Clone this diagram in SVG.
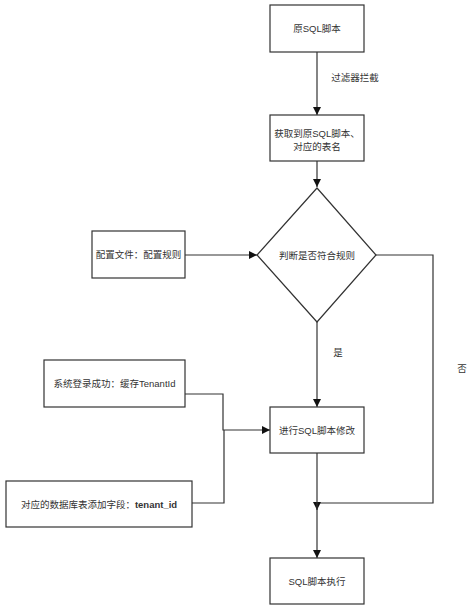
<svg xmlns="http://www.w3.org/2000/svg" width="474" height="610" viewBox="0 0 474 610">
<style>
.box{fill:#fff;stroke:#333;stroke-width:1.2}
.t{font-family:"Liberation Sans","Noto Sans CJK SC",sans-serif;font-size:9.5px;fill:#333;text-anchor:middle;dominant-baseline:central}
.e{fill:none;stroke:#333;stroke-width:1.2}
</style>
<defs>
<marker id="arr" viewBox="0 0 8 8" refX="8" refY="4" markerWidth="8" markerHeight="8" markerUnits="userSpaceOnUse" orient="auto">
<path d="M0,0 L8,4 L0,8 Z" fill="#111"/>
</marker>
</defs>
<rect width="474" height="610" fill="#fff"/>
<g id="connectors">
<path class="e" d="M317,52 V115" marker-end="url(#arr)"/>
<path class="e" d="M317,161 V187" marker-end="url(#arr)"/>
<path class="e" d="M185,255 H257" marker-end="url(#arr)"/>
<path class="e" d="M317,322 V407" marker-end="url(#arr)"/>
<path class="e" d="M376,255 H433 V503 H317 V510" marker-end="url(#arr)"/>
<path class="e" d="M185,394 H223 V430 H270" marker-end="url(#arr)"/>
<path class="e" d="M192,503 H224 V430"/>
<path class="e" d="M317,453 V558" marker-end="url(#arr)"/>
<text class="t" x="355" y="77">过滤器拦截</text>
<text class="t" x="338" y="352">是</text>
<text class="t" x="462" y="368">否</text>
</g>
<g id="n1"><rect class="box" x="270" y="5" width="94" height="47"/><text class="t" x="317" y="28.5">原SQL脚本</text></g>
<g id="n2"><rect class="box" x="270" y="115" width="94" height="46"/><text class="t" x="317" y="133">获取到原SQL脚本、</text><text class="t" x="317" y="146">对应的表名</text></g>
<g id="n3"><polygon class="box" points="317,188 376,255 317,322 257,255"/><text class="t" x="317" y="255">判断是否符合规则</text></g>
<g id="n4"><rect class="box" x="92" y="231" width="93" height="47"/><text class="t" x="138.5" y="254.5">配置文件：配置规则</text></g>
<g id="n5"><rect class="box" x="44" y="360" width="141" height="47"/><text class="t" x="114.5" y="383.5">系统登录成功：缓存TenantId</text></g>
<g id="n6"><rect class="box" x="270" y="407" width="94" height="46"/><text class="t" x="317" y="430">进行SQL脚本修改</text></g>
<g id="n7"><rect class="box" x="6" y="481" width="186" height="46"/><text class="t" x="99" y="504">对应的数据库表添加字段：<tspan font-weight="bold">tenant_id</tspan></text></g>
<g id="n8"><rect class="box" x="270" y="558" width="94" height="46"/><text class="t" x="317" y="581">SQL脚本执行</text></g>
</svg>
